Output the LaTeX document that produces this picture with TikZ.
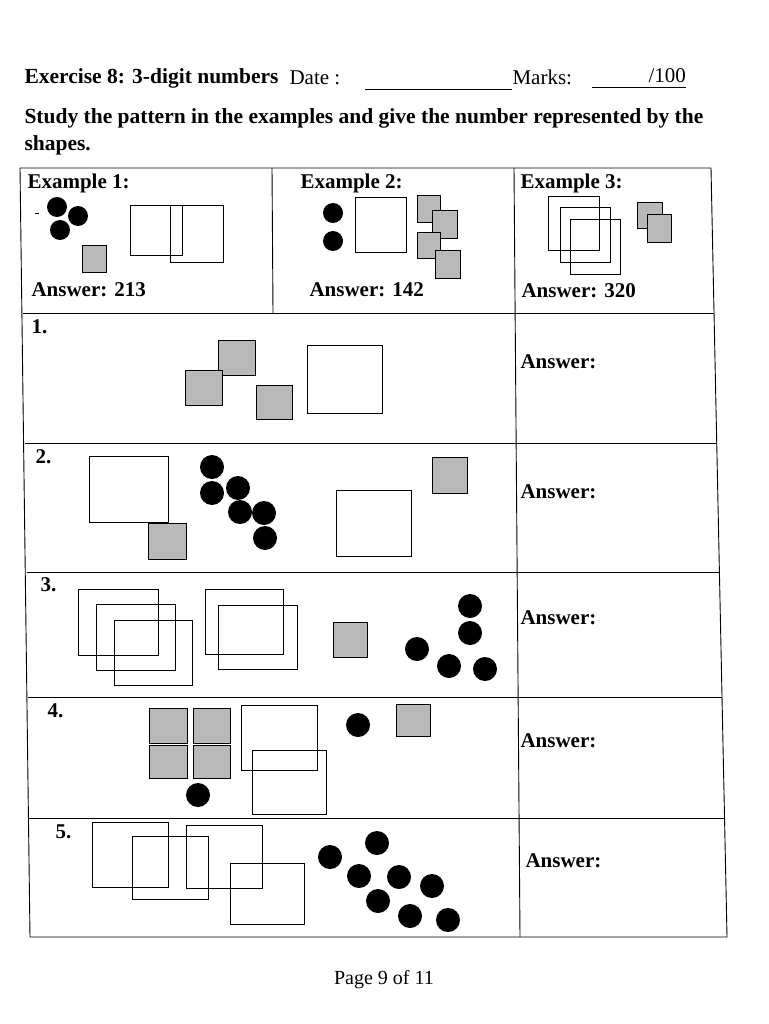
\documentclass[tikz,border=0pt]{standalone}
\usepackage{fontspec}
\setmainfont{Liberation Serif}
\begin{document}
\begin{tikzpicture}[x=1pt,y=-1pt,
 big/.style={draw,line width=0.9pt},
 ten/.style={draw,fill=gray!55,line width=0.8pt},
 one/.style={fill=black},
 lbl/.style={anchor=west,font=\bfseries\fontsize{21.5}{24}\selectfont},
 ans/.style={anchor=west,font=\bfseries\fontsize{21}{23}\selectfont},
 reg/.style={anchor=west,font=\fontsize{21}{23}\selectfont},
 ln/.style={line width=0.9pt}]
\useasboundingbox (0,0) rectangle (768,1024);
% header
\node[lbl] (t1) at (21,78) {Exercise 8: 3-digit numbers};
\node[reg] (t2) at (286,78) {Date :};
\draw[ln] (365,89) -- (512,89);
\node[reg] (t3) at (509,77) {Marks:};
\draw[ln] (592,87) -- (686,87);
\node[reg] (t4) at (645,76) {/100};
\node[lbl] (t5) at (21,118) {Study the pattern in the examples and give the number represented by the};
\node[lbl] (t6) at (21,145) {shapes.};
% table
\draw[ln] (20,168) -- (711,168) -- (727,937) -- (30,937) -- cycle;
\foreach \y/\xl/\xr in {313/23/714,443/25/717,572/27/719,697/28/722,818/29/724}
  \draw[ln] (\xl,\y) -- (\xr,\y);
\draw[ln] (272,168) -- (273,313);
\draw[ln] (514,168) -- (520,937);
% example labels
\node[ans] (e1) at (24,183) {Example 1:};
\node[ans] (e2) at (297,183) {Example 2:};
\node[ans] (e3) at (517,183) {Example 3:};
\node[ans] (a1) at (28,290) {Answer: 213};
\node[ans] (a2) at (306,290) {Answer: 142};
\node[ans] (a3) at (518,291) {Answer: 320};
% example 1
\draw[line width=0.8pt] (35,213) -- (39,213);
\foreach \p in {(57,207),(78,216),(60,230)} \fill \p circle (10);
\draw[ten] (82,245) rectangle (106,272);
\draw[big] (130,205) rectangle (182,255);
\draw[big] (170,205) rectangle (223,262);
% example 2
\foreach \p in {(333,213),(333,241)} \fill \p circle (10);
\draw[big] (355,197) rectangle (406,252);
\draw[ten] (417,195) rectangle (440,222);
\draw[ten] (432,210) rectangle (457,238);
\draw[ten] (417,232) rectangle (440,258);
\draw[ten] (435,250) rectangle (460,278);
% example 3
\draw[big] (548,196) rectangle (599,250);
\draw[big] (560,207) rectangle (610,262);
\draw[big] (570,219) rectangle (620,274);
\draw[ten] (637,202) rectangle (662,228);
\draw[ten] (647,214) rectangle (671,242);
% row labels
\node[ans] (n1) at (28,327) {1.};
\node[ans] (n2) at (32,457) {2.};
\node[ans] (n3) at (37,585) {3.};
\node[ans] (n4) at (44,711) {4.};
\node[ans] (n5) at (52,832) {5.};
\foreach \y [count=\i] in {362,492,618,741} \node[ans] (r\i) at (517,\y) {Answer:};
\node[ans] (r5) at (522,861) {Answer:};
% row 1
\draw[ten] (218,340) rectangle (255,375);
\draw[ten] (185,370) rectangle (222,405);
\draw[ten] (256,385) rectangle (292,419);
\draw[big] (307,345) rectangle (382,413);
% row 2
\draw[big] (89,456) rectangle (168,522);
\draw[ten] (148,523) rectangle (186,559);
\foreach \p in {(212,467),(212,493),(238,488),(240,512),(264,513),(265,538)} \fill \p circle (12);
\draw[big] (336,490) rectangle (411,556);
\draw[ten] (432,457) rectangle (467,493);
% row 3
\draw[big] (78,589) rectangle (158,655);
\draw[big] (96,604) rectangle (175,670);
\draw[big] (114,620) rectangle (192,685);
\draw[big] (205,589) rectangle (283,654);
\draw[big] (218,605) rectangle (297,669);
\draw[ten] (333,622) rectangle (367,657);
\foreach \p in {(470,606),(470,633),(417,649),(449,666),(485,669)} \fill \p circle (12);
% row 4
\draw[ten] (149,708) rectangle (187,743);
\draw[ten] (193,708) rectangle (230,743);
\draw[ten] (149,745) rectangle (187,778);
\draw[ten] (193,745) rectangle (230,778);
\fill (198,795) circle (12);
\draw[big] (241,705) rectangle (317,770);
\draw[big] (252,750) rectangle (326,814);
\fill (358,725) circle (12);
\draw[ten] (396,704) rectangle (430,736);
% row 5
\draw[big] (92,822) rectangle (168,887);
\draw[big] (132,836) rectangle (208,899);
\draw[big] (186,825) rectangle (262,888);
\draw[big] (230,863) rectangle (304,924);
\foreach \p in {(330,857),(377,843),(359,876),(399,877),(432,886),(378,901),(410,916),(448,920)} \fill \p circle (12);
% footer
\node[font=\fontsize{20}{22}\selectfont] (pg) at (384,980) {Page 9 of 11};
\end{tikzpicture}
\end{document}
